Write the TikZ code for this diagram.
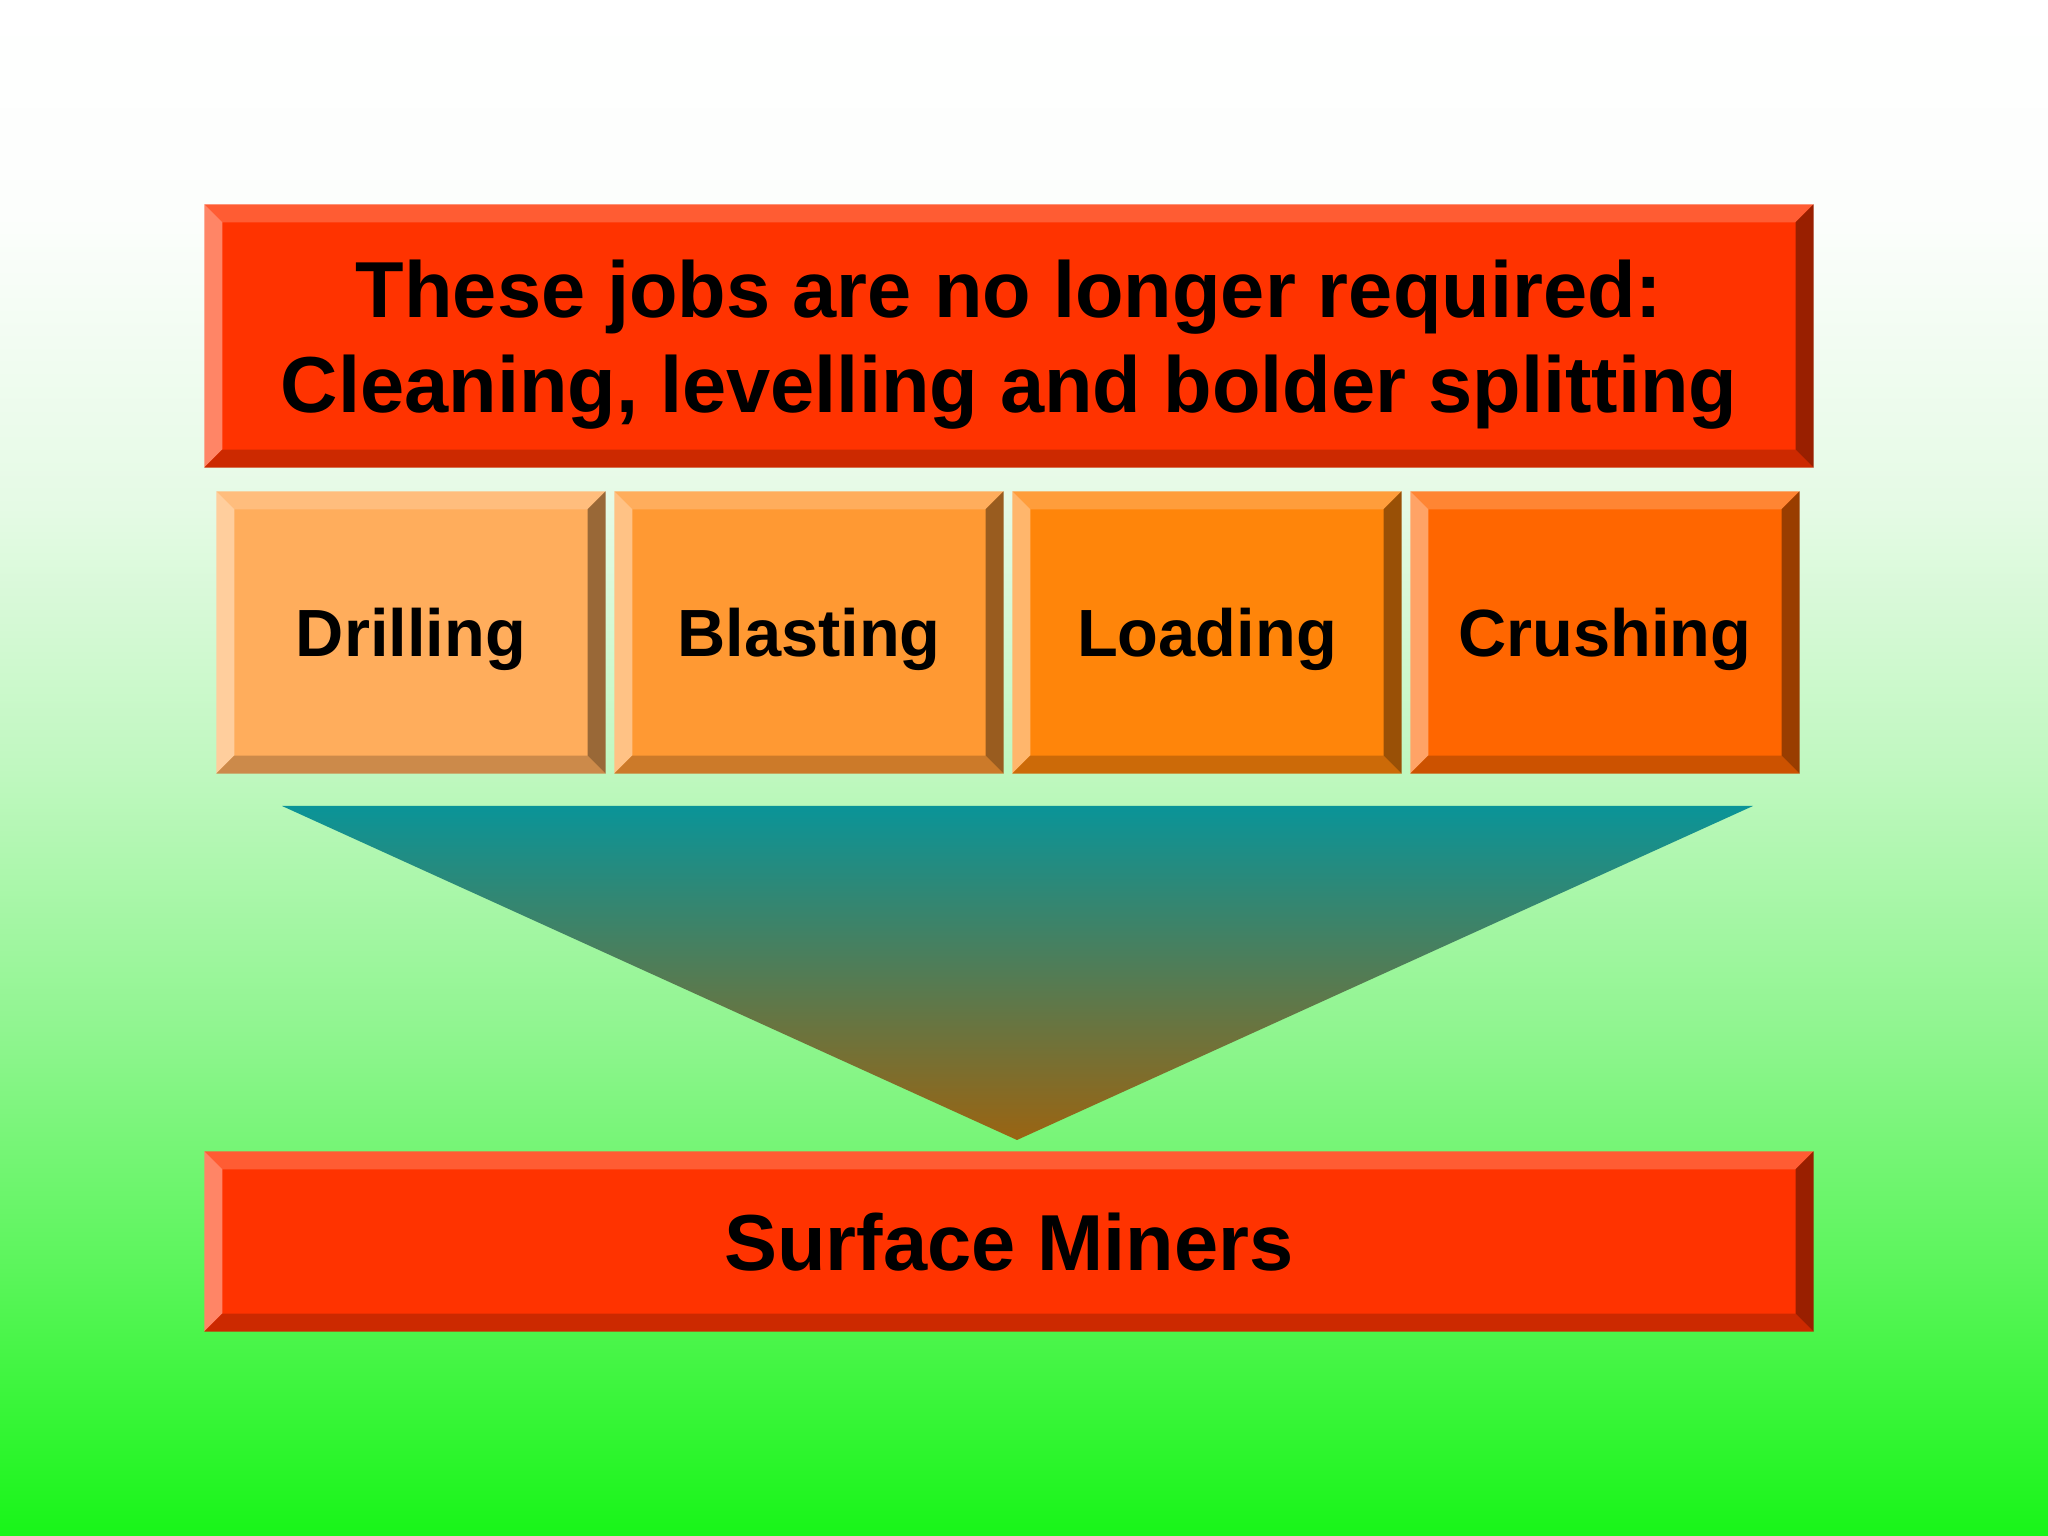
\documentclass[tikz,border=0pt]{standalone}
\usepackage{fontspec}
\setmainfont{Liberation Sans}
\usetikzlibrary{calc}

\definecolor{bgbot}{HTML}{18F518}
\definecolor{bgA}{HTML}{5AF55A}
\definecolor{bgB}{HTML}{90F590}
\definecolor{bgC}{HTML}{C0F8C0}
\definecolor{bgD}{HTML}{E5FAE5}
\definecolor{bgE}{HTML}{FCFEFC}
\definecolor{redface}{HTML}{FF3300}
\definecolor{drillface}{HTML}{FFAD5C}
\definecolor{blastface}{HTML}{FF9933}
\definecolor{loadface}{HTML}{FF850A}
\definecolor{crushface}{HTML}{FF6600}
\definecolor{funneltop}{HTML}{0A9498}
\definecolor{funnelbot}{HTML}{9A6412}

\pgfdeclareverticalshading{meadow}{100bp}{color(0bp)=(bgbot); color(25bp)=(bgbot);
  color(33.5bp)=(bgA); color(41.5bp)=(bgB); color(50bp)=(bgC); color(58.5bp)=(bgD);
  color(68bp)=(bgE); color(75bp)=(white); color(100bp)=(white)}

\newcommand{\bevw}{0.18}
\newcommand{\bevelbox}[2]{%
  \fill[#2!80!white] (#1.north west) -- (#1.north east) -- ($(#1.north east)+(-\bevw,-\bevw)$) -- ($(#1.north west)+(\bevw,-\bevw)$) -- cycle;
  \fill[#2!60!white] (#1.north west) -- ($(#1.north west)+(\bevw,-\bevw)$) -- ($(#1.south west)+(\bevw,\bevw)$) -- (#1.south west) -- cycle;
  \fill[#2!80!black] (#1.south west) -- ($(#1.south west)+(\bevw,\bevw)$) -- ($(#1.south east)+(-\bevw,\bevw)$) -- (#1.south east) -- cycle;
  \fill[#2!60!black] (#1.south east) -- ($(#1.south east)+(-\bevw,\bevw)$) -- ($(#1.north east)+(-\bevw,-\bevw)$) -- (#1.north east) -- cycle;
}

\begin{document}
\begin{tikzpicture}

    \tikzstyle{slab}=[rectangle, inner sep=0pt, align=center, text=black, text depth=0pt];
    \tikzstyle{wide}=[slab, minimum width=16.08cm, font=\bfseries\fontsize{22.6}{27}\selectfont];
    \tikzstyle{stage}=[slab, minimum width=3.88cm, minimum height=2.81cm, font=\bfseries\fontsize{19}{23}\selectfont];

    \useasboundingbox (0,0) rectangle (20.48,15.36);
    \shade[shading=meadow] (0,0) rectangle (20.48,15.36);

    \node[wide, fill=redface, minimum height=2.62cm] (jobs) at (10.09, 12.00) {These jobs are no longer required:\\Cleaning, levelling and bolder splitting};
    \bevelbox{jobs}{redface}

    \node[stage, fill=drillface] (drill) at (4.11, 9.035) {Drilling};
    \node[stage, fill=blastface] (blast) at ($(drill)+(3.98,0)$) {Blasting};
    \node[stage, fill=loadface] (load) at ($(blast)+(3.98,0)$) {Loading};
    \node[stage, fill=crushface] (crush) at ($(load)+(3.98,0)$) {Crushing};
    \bevelbox{drill}{drillface}
    \bevelbox{blast}{blastface}
    \bevelbox{load}{loadface}
    \bevelbox{crush}{crushface}

    \coordinate (tl) at (2.82, 7.30);
    \coordinate (tr) at (17.53, 7.30);
    \coordinate (tip) at (10.17, 3.96);
    \shade[top color=funneltop, bottom color=funnelbot] (tl) -- (tr) -- (tip) -- cycle;

    \node[wide, fill=redface, minimum height=1.79cm] (miners) at (10.09, 2.945) {Surface Miners};
    \bevelbox{miners}{redface}

\end{tikzpicture}
\end{document}
